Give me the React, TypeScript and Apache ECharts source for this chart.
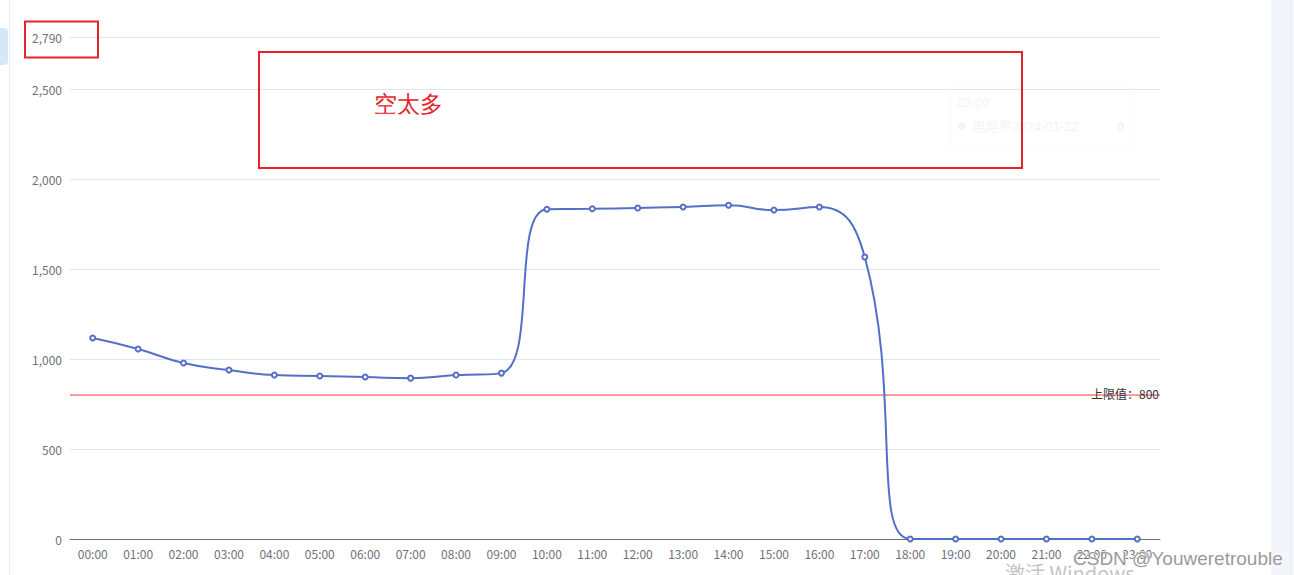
import { useEffect, useRef } from "react"
import * as echarts from "echarts"

const hours = [
  "00:00", "01:00", "02:00", "03:00", "04:00", "05:00", "06:00", "07:00",
  "08:00", "09:00", "10:00", "11:00", "12:00", "13:00", "14:00", "15:00",
  "16:00", "17:00", "18:00", "19:00", "20:00", "21:00", "22:00", "23:00",
]
const conductivity = [
  1117, 1056, 978, 939, 911, 906, 900, 894, 911, 922, 1833, 1835,
  1840, 1845, 1855, 1828, 1845, 1567, 0, 0, 0, 0, 0, 0,
]
const seriesName = "电导率2024-01-22"
const upperLimit = 800
const yMax = 2790

export default function App() {
  const chartRef = useRef<HTMLDivElement>(null)

  useEffect(() => {
    if (!chartRef.current) return
    const chart = echarts.init(chartRef.current, null, { renderer: "svg" })

    // limit line spans the whole plot width via a hidden 0..1 value axis
    const limitData = [
      [0, upperLimit],
      {
        value: [1, upperLimit],
        label: {
          show: true,
          position: "left",
          distance: 1,
          offset: [0, -2],
          color: "#333",
          fontSize: 12,
          formatter: `上限值：${upperLimit}`,
        },
      },
    ]

    chart.setOption({
      animation: false,
      backgroundColor: "#ffffff",
      textStyle: { fontFamily: "'Noto Sans CJK SC', 'Noto Sans', sans-serif" },
      grid: { left: 70, right: 134, top: 37, bottom: 36, containLabel: false },
      xAxis: [
        {
          type: "category",
          data: hours,
          axisLine: { lineStyle: { color: "#6E7079" } },
          axisLabel: { interval: 0, color: "#6E7079", fontSize: 12 },
        },
        { type: "value", min: 0, max: 1, show: false, position: "top" },
      ],
      yAxis: {
        type: "value",
        min: 0,
        max: yMax,
        interval: 500,
        axisLine: { show: false },
        axisTick: { show: false },
        axisLabel: { color: "#6E7079", fontSize: 12 },
        splitLine: { lineStyle: { color: "#E0E6F1" } },
      },
      series: [
        {
          name: "上限值",
          type: "line",
          xAxisIndex: 1,
          data: limitData,
          symbol: "circle",
          symbolSize: 0,
          showSymbol: true,
          clip: false,
          silent: true,
          z: 1,
          itemStyle: { color: "#ee3b3b" },
          lineStyle: { color: "#ee3b3b", width: 1 },
        },
        {
          name: seriesName,
          type: "line",
          smooth: true,
          data: conductivity,
          symbol: "emptyCircle",
          symbolSize: 5,
          z: 3,
          itemStyle: { color: "#5470c6" },
          lineStyle: { color: "#5470c6", width: 2 },
        },
      ],
      graphic: [
        { type: "rect", shape: { x: 0, y: 0, width: 9, height: 575 }, style: { fill: "#ffffff" }, z: 10 },
        { type: "rect", shape: { x: 0, y: 28, width: 8, height: 37, r: [0, 4, 4, 0] }, style: { fill: "#d6e8f8" }, z: 11 },
        { type: "line", shape: { x1: 9.5, y1: 0, x2: 9.5, y2: 575 }, style: { stroke: "#ececec", lineWidth: 1 }, z: 11 },
        { type: "rect", shape: { x: 1271, y: 0, width: 23, height: 575 }, style: { fill: "#f2f5f9" }, z: 10 },
        { type: "line", shape: { x1: 1290.5, y1: 0, x2: 1290.5, y2: 575 }, style: { stroke: "#e6e9ee", lineWidth: 1 }, z: 11 },
        // faded tooltip remnant
        { type: "rect", shape: { x: 950, y: 88, width: 183, height: 58 }, style: { fill: "none", stroke: "#f9f9f9", lineWidth: 1 }, z: 9 },
        { type: "text", x: 957, y: 102, style: { text: "23:00", fill: "#f3f3f3", fontSize: 13, verticalAlign: "middle" }, z: 9 },
        { type: "circle", shape: { cx: 962, cy: 126, r: 4 }, style: { fill: "#f3f3f3" }, z: 9 },
        { type: "text", x: 973, y: 126, style: { text: "电导率2024-01-22", fill: "#f3f3f3", fontSize: 13, verticalAlign: "middle" }, z: 9 },
        { type: "text", x: 1117, y: 126, style: { text: "0", fill: "#f3f3f3", fontSize: 13, verticalAlign: "middle", fontWeight: "bold" }, z: 9 },
        // annotations
        { type: "rect", shape: { x: 25, y: 21.5, width: 73, height: 36 }, style: { fill: "none", stroke: "#e8222a", lineWidth: 2 }, z: 20 },
        { type: "rect", shape: { x: 259, y: 52, width: 763, height: 116 }, style: { fill: "none", stroke: "#e8222a", lineWidth: 2 }, z: 20 },
        { type: "text", x: 374, y: 104, style: { text: "空太多", fill: "#e8222a", fontSize: 23, verticalAlign: "middle" }, z: 20 },
        // watermarks
        { type: "text", x: 1005, y: 572, style: { text: "激活 Windows", fill: "#c4c4c4", fontSize: 20, verticalAlign: "middle", fontFamily: "'Noto Sans CJK SC', sans-serif" }, z: 21 },
        { type: "text", x: 1073, y: 558, style: { text: "CSDN @Youweretrouble", fill: "#9a9a9a", stroke: "#ffffff", lineWidth: 1, fontSize: 19, verticalAlign: "middle", fontFamily: "'Liberation Sans', Arial, sans-serif" }, z: 22 },
      ],
    })

    return () => {
      chart.dispose()
    }
  }, [])

  return (
    <div
      ref={chartRef}
      style={{ position: "fixed", left: 0, top: 0, width: 1294, height: 575 }}
    />
  )
}
